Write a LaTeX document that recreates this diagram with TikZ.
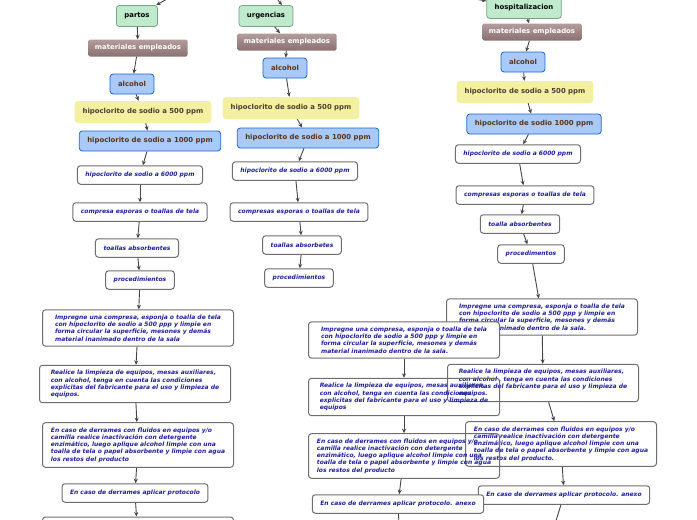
\documentclass[tikz,border=0pt]{standalone}
\usepackage{fontspec}
\setmainfont{DejaVu Sans}
\usetikzlibrary{arrows.meta}
\definecolor{verde}{HTML}{BFEACB}
\definecolor{bordeverde}{HTML}{7AA386}
\definecolor{maltop}{HTML}{B49C9C}
\definecolor{malbot}{HTML}{8A7070}
\definecolor{azulclaro}{HTML}{A9C9F8}
\definecolor{bordeazul}{HTML}{1A66CC}
\definecolor{cafe}{HTML}{5A3418}
\definecolor{fondoamarillo}{HTML}{F3F0A2}
\definecolor{grisoscuro}{HTML}{4A3E30}
\definecolor{gris}{HTML}{6E6E6E}
\definecolor{azuloscuro}{HTML}{1E1E9C}
\definecolor{flechagris}{HTML}{444444}

\begin{document}
\begin{tikzpicture}[x=1pt,y=-1pt]
  \tikzset{
    caja/.style={rounded corners=3pt, inner xsep=8pt, inner ysep=0pt, font=\fontsize{6.9}{8}\selectfont\bfseries},
    rama/.style={caja, draw=bordeverde, fill=verde, line width=0.8pt, minimum height=21pt},
    material/.style={caja, rounded corners=1.5pt, top color=maltop, bottom color=malbot, text=white, minimum height=17pt, inner xsep=6.5pt},
    azul/.style={caja, draw=bordeazul, fill=azulclaro, text=cafe, line width=0.8pt, minimum height=20pt},
    amarillo/.style={caja, fill=fondoamarillo, text=grisoscuro, minimum height=22pt},
    item/.style={caja, draw=gris, line width=1pt, fill=white, text=azuloscuro, minimum height=18.5pt, font=\fontsize{6}{7.2}\selectfont\bfseries\itshape},
    texto/.style={item, fill=none, align=left, minimum width=191pt, inner ysep=5pt},
    flecha/.style={-{Stealth[length=4.5pt,width=4pt]}, line width=0.9pt, draw=flechagris},
  }

  \useasboundingbox (0,0) rectangle (697,520);
  \clip (0,0) rectangle (697,520);

  \coordinate (centro) at (243,-44);

  % partos
  \node[rama] (partos) at (137,16) {partos};
  \node[material] (pmat) at (138,48) {materiales empleados};
  \node[azul] (palc) at (132,84) {alcohol};
  \node[amarillo] (p500) at (143,112) {hipoclorito de sodio a 500 ppm};
  \node[azul] (p1000) at (150,141) {hipoclorito de sodio a 1000 ppm};
  \node[item] (p6000) at (140,175) {hipoclorito de sodio a 6000 ppm};
  \node[item] (pcomp) at (140,212) {compresa esporas o toallas de tela};
  \node[item] (ptoal) at (137,248) {toallas absorbentes};
  \node[item] (pproc) at (140,280) {procedimientos};
  \node[texto] (pimp) at (138,328) {Impregne una compresa, esponja o toalla de tela\\con hipoclorito de sodio a 500 ppp y limpie en\\forma circular la superficie, mesones y demás\\material inanimado dentro de la sala};
  \node[texto] (preal) at (135,384) {Realice la limpieza de equipos, mesas auxiliares,\\con alcohol, tenga en cuenta las condiciones\\explicitas del fabricante para el uso y limpieza de\\equipos.};
  \node[texto] (pderr) at (138,445) {En caso de derrames con fluidos en equipos y/o\\camilla realice inactivación con detergente\\enzimático, luego aplique alcohol limpie con una\\toalla de tela o papel absorbente y limpie con agua\\los restos del producto};
  \node[item] (pprot) at (135,493) {En caso de derrames aplicar protocolo};
  \node[texto, minimum height=48pt] (psig) at (138,541) {};

  % hospitalizacion
  \node[rama] (hosp) at (524,8) {hospitalizacion};
  \node[material] (hmat) at (532,32) {materiales empleados};
  \node[azul] (halc) at (523,62) {alcohol};
  \node[amarillo] (h500) at (525,92) {hipoclorito de sodio a 500 ppm};
  \node[azul] (h1000) at (534,124) {hipoclorito de sodio 1000 ppm};
  \node[item] (h6000) at (518,154) {hipoclorito de sodio a 6000 ppm};
  \node[item] (hcomp) at (525,195) {compresas esporas o toallas de tela};
  \node[item] (htoal) at (520,224) {toalla absorbentes};
  \node[item] (hproc) at (531,254) {procedimentos};
  \node[texto] (himp) at (542,317) {Impregne una compresa, esponja o toalla de tela\\con hipoclorito de sodio a 500 ppp y limpie en\\forma circular la superficie, mesones y demás\\material inanimado dentro de la sala.};
  \node[texto] (hreal) at (543,383) {Realice la limpieza de equipos, mesas auxiliares,\\con alcohol , tenga en cuenta las condiciones\\explicitas del fabricante para el uso y limpieza de\\equipos.};
  \node[texto] (hderr) at (561,444) {En caso de derrames con fluidos en equipos y/o\\camilla realice inactivación con detergente\\enzimático, luego aplique alcohol limpie con una\\toalla de tela o papel absorbente y limpie con agua\\los restos del producto.};
  \node[item] (hprot) at (564,495) {En caso de derrames aplicar protocolo. anexo};
  \coordinate (hsig) at (550,540);

  % urgencias
  \node[rama] (urg) at (266,16) {urgencias};
  \node[material] (umat) at (287,42) {materiales empleados};
  \node[azul] (ualc) at (285,68) {alcohol};
  \node[amarillo] (u500) at (291,108) {hipoclorito de sodio a 500 ppm};
  \node[azul] (u1000) at (308,138) {hipoclorito de sodio a 1000 ppm};
  \node[item] (u6000) at (295,171) {hipoclorito de sodio a 6000 ppm};
  \node[item] (ucomp) at (299,212) {compresas esporas o toallas de tela};
  \node[item] (utoal) at (302,245) {toallas absorbetes};
  \node[item] (uproc) at (299,278) {procedimientos};
  \node[texto, fill=white] (uimp) at (404,340) {Impregne una compresa, esponja o toalla de tela\\con hipoclorito de sodio a 500 ppp y limpie en\\forma circular la superficie, mesones y demás\\material inanimado dentro de la sala.};
  \node[texto] (ureal) at (404,397) {Realice la limpieza de equipos, mesas auxiliares,\\con alcohol, tenga en cuenta las condiciones\\explicitas del fabricante para el uso y limpieza de\\equipos};
  \node[texto] (uderr) at (404,456) {En caso de derrames con fluidos en equipos y/o\\camilla realice inactivación con detergente\\enzimático, luego aplique alcohol limpie con una\\toalla de tela o papel absorbente y limpie con agua\\los restos del producto};
  \node[item] (uprot) at (398,504) {En caso de derrames aplicar protocolo. anexo};
  \coordinate (usig) at (400,545);

  \draw[flecha] (centro) -- (partos);
  \draw[flecha] (centro) -- ([xshift=16pt]urg.north);
  \draw[flecha] (centro) -- (hosp);

  \draw[flecha] (partos) -- (pmat);
  \draw[flecha] (pmat) -- (palc);
  \draw[flecha] (palc) -- (p500);
  \draw[flecha] (p500) -- (p1000);
  \draw[flecha] (p1000) -- (p6000);
  \draw[flecha] (p6000) -- (pcomp);
  \draw[flecha] (pcomp) -- (ptoal);
  \draw[flecha] (ptoal) -- (pproc);
  \draw[flecha] (pproc) -- (pimp);
  \draw[flecha] (pimp) -- (preal);
  \draw[flecha] (preal) -- (pderr);
  \draw[flecha] (pderr) -- (pprot);
  \draw[flecha] (pprot) -- (psig);

  \draw[flecha] (urg) -- (umat);
  \draw[flecha] (umat) -- (ualc);
  \draw[flecha] (ualc) -- (u500);
  \draw[flecha] (u500) -- (u1000);
  \draw[flecha] (u1000) -- (u6000);
  \draw[flecha] (u6000) -- (ucomp);
  \draw[flecha] (ucomp) -- (utoal);
  \draw[flecha] (utoal) -- (uproc);
  \draw[flecha] (uimp) -- (ureal);
  \draw[flecha] (ureal) -- (uderr);
  \draw[flecha] (uderr) -- (uprot);
  \draw[flecha] (uprot) -- (usig);

  \draw[flecha] (hosp) -- (hmat);
  \draw[flecha] (hmat) -- (halc);
  \draw[flecha] (halc) -- (h500);
  \draw[flecha] (h500) -- (h1000);
  \draw[flecha] (h1000) -- (h6000);
  \draw[flecha] (h6000) -- (hcomp);
  \draw[flecha] (hcomp) -- (htoal);
  \draw[flecha] (htoal) -- (hproc);
  \draw[flecha] (hproc) -- (himp);
  \draw[flecha] (himp) -- (hreal);
  \draw[flecha] (hreal) -- (hderr);
  \draw[flecha] (hderr) -- (hprot);
  \draw[flecha] (hprot) -- (hsig);
\end{tikzpicture}
\end{document}
